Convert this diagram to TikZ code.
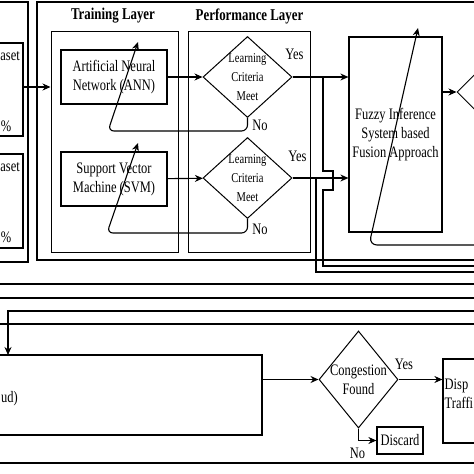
\documentclass[tikz,border=0pt]{standalone}
\usepackage{fontspec}
\setmainfont[FakeStretch=0.78]{Liberation Serif}
\usetikzlibrary{shapes.geometric,arrows.meta}
\begin{document}
\begin{tikzpicture}[x=1pt,y=-1pt,
  every node/.style={font=\fontsize{16}{19}\selectfont},
  box/.style={draw, line width=1.2pt, inner sep=0pt, align=center},
  layer/.style={draw, line width=1pt, inner sep=0pt},
  dia/.style={draw, diamond, line width=1pt, inner sep=-14pt, align=center},
  conn/.style={line width=1.1pt},
  arr/.style={conn, -{Stealth[length=8pt,width=7pt]}},
  ttl/.style={font=\bfseries\fontsize{16.5}{19}\selectfont, inner sep=0pt},
  small/.style={font=\fontsize{13.5}{19}\selectfont},
  lbl/.style={inner sep=0pt}
]
\useasboundingbox (0,0) rectangle (474,474);
\clip (0,0) rectangle (474,474);

% containers
\node[layer, line width=1.2pt, minimum width=48pt, minimum height=260pt] (dsc) at (4,132) {};
\node[layer, line width=1.4pt, minimum width=463pt, minimum height=258pt] (big) at (268.5,131) {};
\node[layer, minimum width=127pt, minimum height=221pt] (train) at (114.5,141.5) {};
\node[layer, minimum width=122pt, minimum height=221pt] (perf) at (249,141.5) {};
\node[ttl] (traint) at (113,16) {Training Layer};
\node[ttl] (perft) at (249.5,16) {Performance Layer};

% datasets
\node[box, minimum width=43pt, minimum height=93pt] (ds1) at (1.5,89.5) {};
\node[box, minimum width=43pt, minimum height=94pt] (ds2) at (1.5,201) {};
\node[lbl, anchor=base east] (ds1a) at (20,60) {aset};
\node[lbl, anchor=base east] (ds1b) at (11.5,131) {\%};
\node[lbl, anchor=base east] (ds2a) at (20,171) {aset};
\node[lbl, anchor=base east] (ds2b) at (11.5,242) {\%};

% classifiers
\node[box, minimum width=106pt, minimum height=54pt] (ann) at (114,77) {Artificial Neural\\Network (ANN)};
\node[box, minimum width=106pt, minimum height=54pt] (svm) at (114,179) {Support Vector\\Machine (SVM)};

% decisions
\node[dia, small, minimum width=89pt, minimum height=81pt] (d1) at (247.5,77) {Learning\\Criteria\\Meet};
\node[dia, small, minimum width=89pt, minimum height=81pt] (d2) at (247.5,178) {Learning\\Criteria\\Meet};
\node[lbl] (y1) at (294.5,54) {Yes};
\node[lbl] (y2) at (297.5,156) {Yes};
\node[lbl] (n1) at (260,125) {No};
\node[lbl] (n2) at (260,229) {No};

% fuzzy
\node[box, minimum width=93pt, minimum height=195pt] (fuzzy) at (395.5,134.5) {Fuzzy Inference\\System based\\Fusion Approach};
\node[dia, minimum width=90pt, minimum height=90pt] (d3) at (502,92) {};

% bottom section
\draw[conn] (-5,284) -- (484,284);
\draw[conn] (-5,298) -- (484,298);
\node[layer, line width=1.2pt, minimum width=494pt, minimum height=139pt] (low) at (237,393.5) {};
\node[box, minimum width=282pt, minimum height=80pt] (store) at (121,395) {};
\node[lbl, anchor=base east] (storet) at (18,402) {ud)};
\node[dia, minimum width=79pt, minimum height=97pt] (cong) at (358.5,379.5) {Congestion\\Found};
\node[box, minimum width=46pt, minimum height=27pt] (disc) at (400,440.5) {Discard};
\node[box, minimum width=77pt, minimum height=84pt] (disp) at (481.5,401) {};
\node[lbl, anchor=base west, align=left] (dispt) at (444.5,408) {Disp\\Traffi};
\node[lbl] (y3) at (404,364) {Yes};
\node[lbl] (n3) at (357.5,453) {No};

% coordinates
\coordinate (t1) at (138,42);
\coordinate (t2) at (138,143);
\coordinate (t3) at (418,28);
\coordinate (b1) at (323,77);
\coordinate (b2) at (316,178);
\coordinate (e245) at (484,245);
\coordinate (e266) at (484,266);
\coordinate (e272) at (484,272);
\coordinate (e311) at (484,311);
\coordinate (s1) at (8,355);

% connectors
\draw[arr] (ds1.east |- 0,87) -- (train.west |- 0,87);
\draw[arr] (ann) -- (d1);
\draw[arr] (svm) -- (d2);
\draw[arr] (d1.east) -- (fuzzy.west |- d1.east);
\draw[arr] (d2.east) -- (fuzzy.west |- d2.east);
\draw[arr, rounded corners=6pt] (d1.south) |- (108,131) -- (t1);
\draw[arr, rounded corners=6pt] (d2.south) |- (107,233) -- (t2);
\draw[conn] (b1) -- (323,171) -- (333,171) -- (333,190) -- (323,190) -- (323,266) -- (e266);
\draw[conn] (b2) -- (316,272) -- (e272);
\draw[arr, rounded corners=8pt] (e245) -- (369,245) -- (t3);
\draw[arr] (fuzzy.east |- d3.west) -- (d3.west);
\draw[arr] (e311) -| (s1);
\draw[arr] (store.east |- cong.west) -- (cong.west);
\draw[arr] (cong.east) -- (disp.west |- cong.east);
\draw[arr] (cong.south) |- (disc.west);
\end{tikzpicture}
\end{document}
